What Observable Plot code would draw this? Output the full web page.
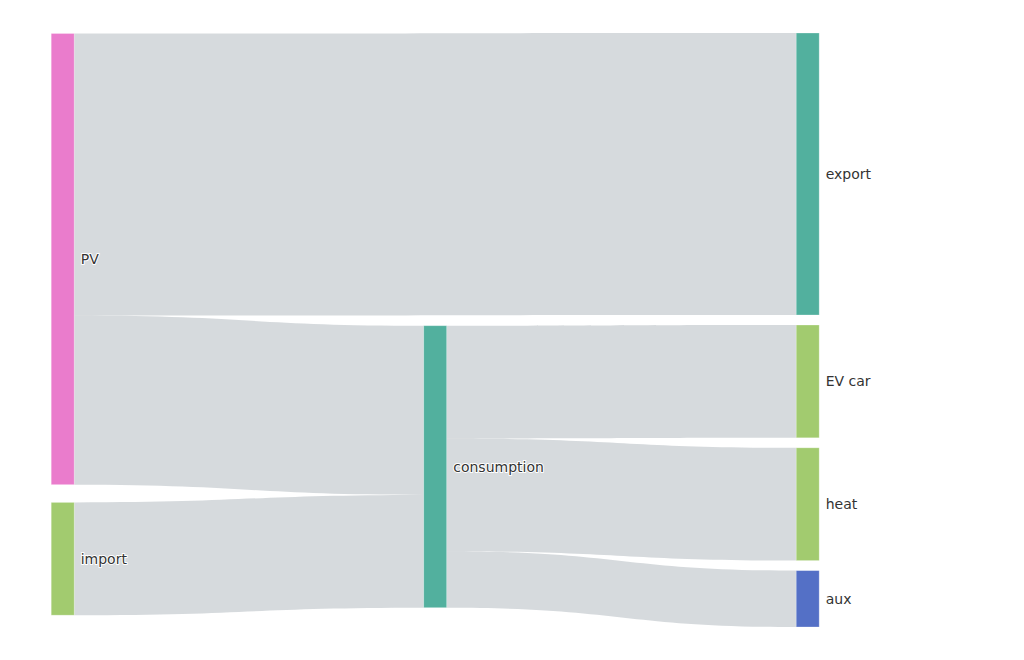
<!DOCTYPE html>
<html>
<head>
<meta charset="utf-8">
<script src="https://cdn.jsdelivr.net/npm/d3@7"></script>
<script src="https://cdn.jsdelivr.net/npm/@observablehq/plot@0.6"></script>
<style>
  html, body { margin: 0; padding: 0; background: #ffffff; }
  #chart svg { display: block; }
</style>
</head>
<body>
<div id="chart"></div>
<script>
// ---- data ----
const nodeNames = ["PV", "import", "consumption", "export", "EV car", "heat", "aux"];
const linkSources = ["PV", "PV", "import", "consumption", "consumption", "consumption"];
const linkTargets = ["export", "consumption", "consumption", "EV car", "heat", "aux"];
const linkValues = [5, 3, 2, 2, 2, 1];

// ---- style ----
const nodePalette = ["#ea7ccc", "#a2cb6f", "#52b09e", "#52b09e", "#a2cb6f", "#a2cb6f", "#5470c6"];
const W = 1024, H = 660;
const box = {x0: 0.05 * W, x1: 0.8 * W, y0: 0.05 * H, y1: 0.95 * H};
const nodeWidth = 23, nodePadding = 10, iterations = 6;

// ---- sankey layout (port of d3-sankey's algorithm, justify alignment) ----
function sankeyLayout() {
  const nodes = nodeNames.map((name, index) => ({name, index, sourceLinks: [], targetLinks: []}));
  const byName = new Map(nodes.map(n => [n.name, n]));
  const links = linkValues.map((value, index) => ({
    source: byName.get(linkSources[index]), target: byName.get(linkTargets[index]), value, index
  }));
  for (const l of links) { l.source.sourceLinks.push(l); l.target.targetLinks.push(l); }
  for (const n of nodes) n.value = Math.max(d3.sum(n.sourceLinks, l => l.value), d3.sum(n.targetLinks, l => l.value));

  let current = new Set(nodes), next = new Set(), depth = 0;
  while (current.size) {
    for (const n of current) { n.depth = depth; for (const {target} of n.sourceLinks) next.add(target); }
    depth++; current = next; next = new Set();
  }
  const nCols = d3.max(nodes, n => n.depth) + 1;
  const kx = (box.x1 - box.x0 - nodeWidth) / (nCols - 1);
  const columns = Array.from({length: nCols}, () => []);
  for (const n of nodes) {
    const i = n.sourceLinks.length ? n.depth : nCols - 1;
    n.layer = i; n.x0 = box.x0 + i * kx; n.x1 = n.x0 + nodeWidth;
    columns[i].push(n);
  }

  const py = nodePadding;
  const ascBreadth = (a, b) => a.y0 - b.y0;
  const ascSrc = (a, b) => ascBreadth(a.source, b.source) || a.index - b.index;
  const ascTgt = (a, b) => ascBreadth(a.target, b.target) || a.index - b.index;
  const reorderLinks = col => { for (const n of col) { n.sourceLinks.sort(ascTgt); n.targetLinks.sort(ascSrc); } };
  const reorderNodeLinks = n => {
    for (const l of n.targetLinks) l.source.sourceLinks.sort(ascTgt);
    for (const l of n.sourceLinks) l.target.targetLinks.sort(ascSrc);
  };

  const ky = d3.min(columns, c => (box.y1 - box.y0 - (c.length - 1) * py) / d3.sum(c, n => n.value));
  for (const col of columns) {
    let y = box.y0;
    for (const n of col) {
      n.y0 = y; n.y1 = y + n.value * ky; y = n.y1 + py;
      for (const l of n.sourceLinks) l.width = l.value * ky;
    }
    y = (box.y1 - y + py) / (col.length + 1);
    col.forEach((n, i) => { n.y0 += y * (i + 1); n.y1 += y * (i + 1); });
    reorderLinks(col);
  }

  function sourceTop(source, target) {
    let y = target.y0 - (target.targetLinks.length - 1) * py / 2;
    for (const {source: node, width} of target.targetLinks) { if (node === source) break; y += width + py; }
    for (const {target: node, width} of source.sourceLinks) { if (node === target) break; y -= width; }
    return y;
  }
  function targetTop(source, target) {
    let y = source.y0 - (source.sourceLinks.length - 1) * py / 2;
    for (const {target: node, width} of source.sourceLinks) { if (node === target) break; y += width + py; }
    for (const {source: node, width} of target.targetLinks) { if (node === source) break; y -= width; }
    return y;
  }
  function topToBottom(col, y, i, a) {
    for (; i < col.length; ++i) { const n = col[i]; const dy = (y - n.y0) * a; if (dy > 1e-6) { n.y0 += dy; n.y1 += dy; } y = n.y1 + py; }
  }
  function bottomToTop(col, y, i, a) {
    for (; i >= 0; --i) { const n = col[i]; const dy = (n.y1 - y) * a; if (dy > 1e-6) { n.y0 -= dy; n.y1 -= dy; } y = n.y0 - py; }
  }
  function resolve(col, a) {
    const i = col.length >> 1, s = col[i];
    bottomToTop(col, s.y0 - py, i - 1, a);
    topToBottom(col, s.y1 + py, i + 1, a);
    bottomToTop(col, box.y1, col.length - 1, a);
    topToBottom(col, box.y0, 0, a);
  }
  function relaxLeftToRight(alpha, beta) {
    for (let i = 1; i < columns.length; ++i) {
      const col = columns[i];
      for (const t of col) {
        let y = 0, w = 0;
        for (const {source, value} of t.targetLinks) { const v = value * (t.layer - source.layer); y += targetTop(source, t) * v; w += v; }
        if (!(w > 0)) continue;
        const dy = (y / w - t.y0) * alpha; t.y0 += dy; t.y1 += dy; reorderNodeLinks(t);
      }
      col.sort(ascBreadth); resolve(col, beta);
    }
  }
  function relaxRightToLeft(alpha, beta) {
    for (let i = columns.length - 2; i >= 0; --i) {
      const col = columns[i];
      for (const s of col) {
        let y = 0, w = 0;
        for (const {target, value} of s.sourceLinks) { const v = value * (target.layer - s.layer); y += sourceTop(s, target) * v; w += v; }
        if (!(w > 0)) continue;
        const dy = (y / w - s.y0) * alpha; s.y0 += dy; s.y1 += dy; reorderNodeLinks(s);
      }
      col.sort(ascBreadth); resolve(col, beta);
    }
  }
  for (let i = 0; i < iterations; ++i) {
    const alpha = Math.pow(0.99, i);
    const beta = Math.max(1 - alpha, (i + 1) / iterations);
    relaxRightToLeft(alpha, beta);
    relaxLeftToRight(alpha, beta);
  }
  for (const n of nodes) {
    let a = n.y0, b = n.y0;
    for (const l of n.sourceLinks) { l.y0 = a + l.width / 2; a += l.width; }
    for (const l of n.targetLinks) { l.y1 = b + l.width / 2; b += l.width; }
  }
  return {nodes, links};
}

const {nodes, links} = sankeyLayout();
const bandPoints = links.flatMap(l => [
  {link: l.index, x: l.source.x1, top: l.y0 - l.width / 2, bottom: l.y0 + l.width / 2},
  {link: l.index, x: l.target.x0, top: l.y1 - l.width / 2, bottom: l.y1 + l.width / 2}
]);

const chart = Plot.plot({
  width: W,
  height: H,
  margin: 0,
  x: {domain: [0, W], range: [0, W], axis: null},
  y: {domain: [0, H], range: [0, H], axis: null},
  color: {domain: nodeNames, range: nodePalette},
  marks: [
    Plot.areaY(bandPoints, {x: "x", y1: "top", y2: "bottom", z: "link", curve: "bump-x", fill: "#314656", fillOpacity: 0.2}),
    Plot.rect(nodes, {x1: "x0", x2: "x1", y1: "y0", y2: "y1", fill: "name", stroke: "#ffffff", strokeOpacity: 0.35, strokeWidth: 0.8}),
    Plot.text(nodes, {
      x: "x1", y: d => (d.y0 + d.y1) / 2, text: "name", dx: 6, textAnchor: "start",
      fontSize: 14, fontFamily: "DejaVu Sans", fill: "#333333", stroke: "#ffffff", strokeWidth: 2
    })
  ]
});
document.getElementById("chart").appendChild(chart);
</script>
</body>
</html>
